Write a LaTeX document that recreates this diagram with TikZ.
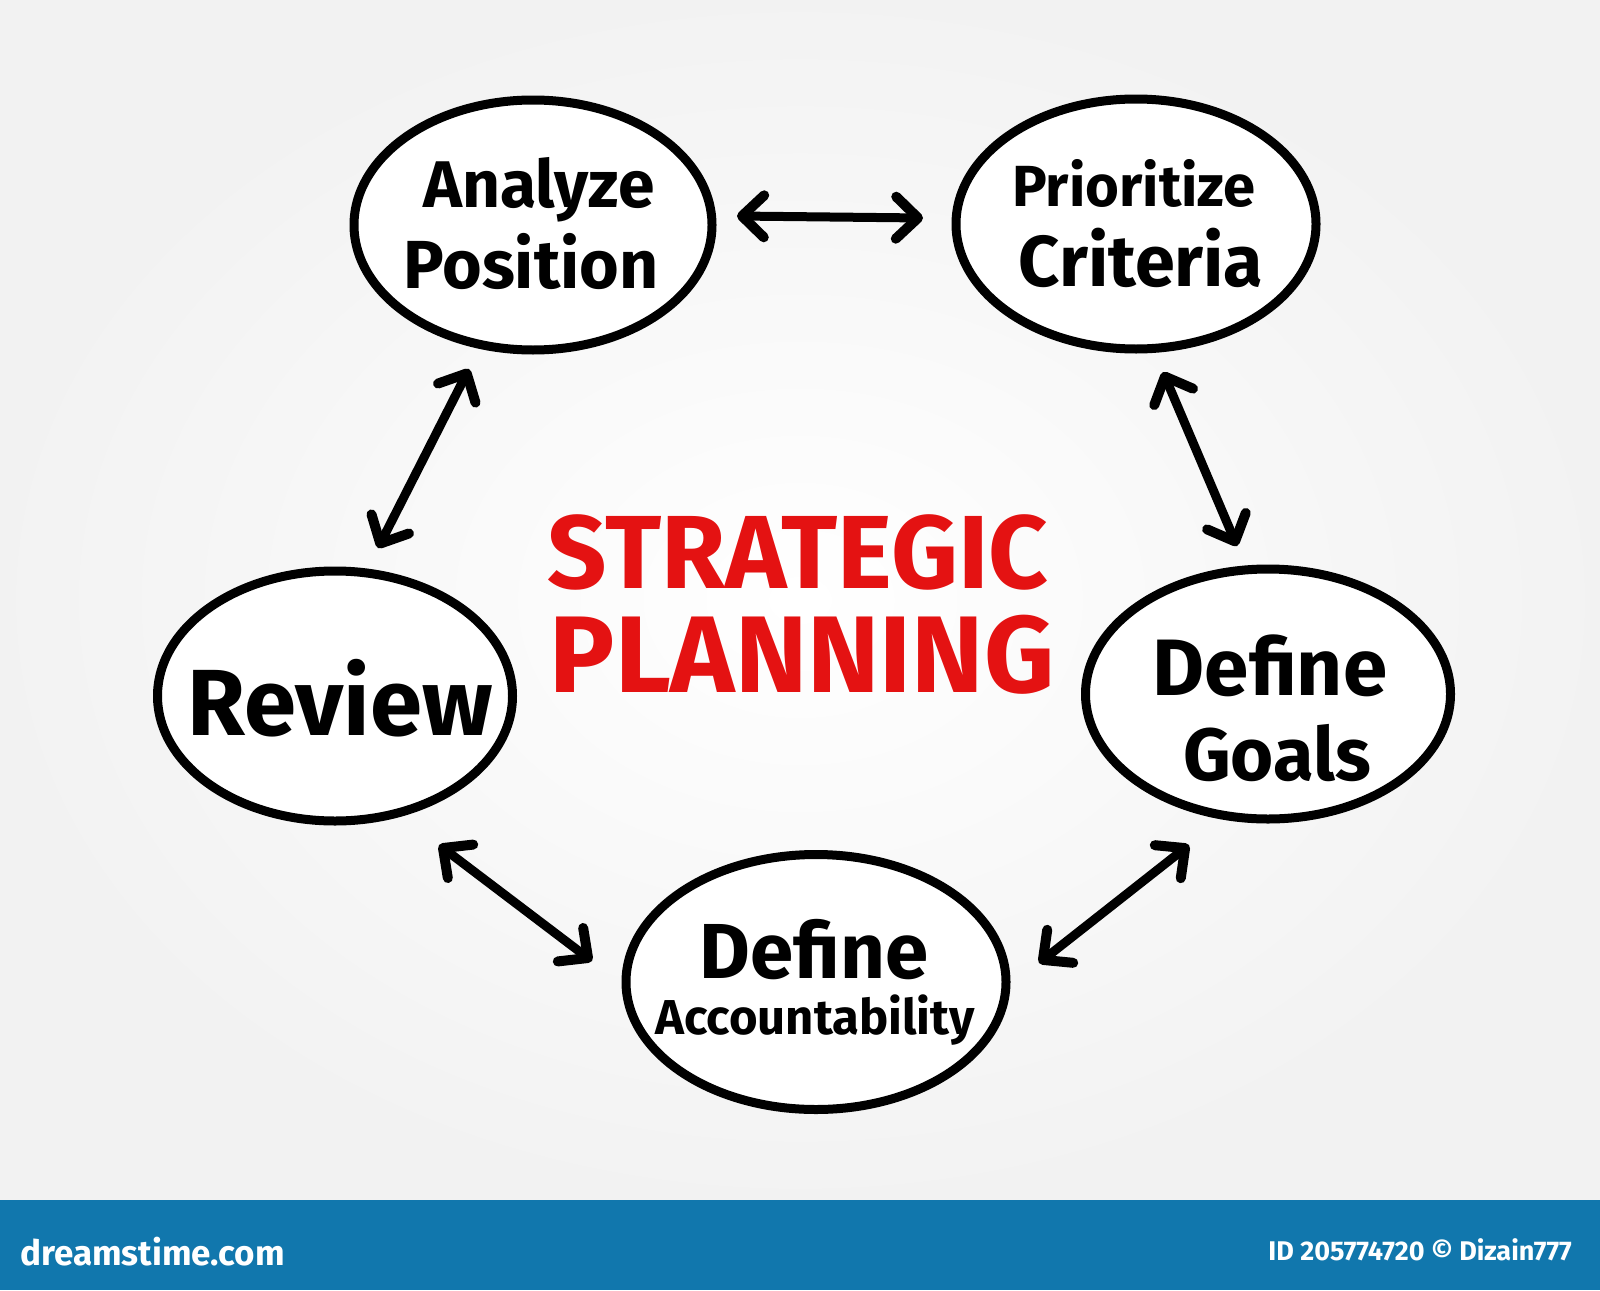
\documentclass[tikz,border=0pt]{standalone}
\usepackage{fontspec}
\setmainfont{Fira Sans}
\usetikzlibrary{shapes.geometric,arrows.meta}
\definecolor{redtxt}{RGB}{228,18,18}
\definecolor{barblue}{RGB}{17,119,173}
\newcommand{\fsz}[1]{\fontsize{#1}{#1}\selectfont\bfseries}
\tikzset{
  bubble/.style={ellipse, draw=black, line width=9pt, fill=white, inner sep=0pt,
    minimum width=360pt, minimum height=250pt},
  lbl/.style={text=black, inner sep=0pt, anchor=base},
  barbtip/.tip={Straight Barb[length=22pt,width=42pt,line width=10pt,round]},
  link/.style={draw=black, line width=9pt, line cap=round, barbtip-barbtip},
  title/.style={text=redtxt, inner sep=0pt, anchor=base},
  bartext/.style={text=white, inner sep=0pt}
}
\begin{document}
\begin{tikzpicture}[x=1pt,y=-1pt]
\useasboundingbox (0,0) rectangle (1600,1290);
\shade[inner color=white, outer color=black!5] (0,0) rectangle (1600,1200);
\fill[barblue] (0,1200) rectangle (1600,1290);
\node[bartext, anchor=west, font=\fsz{35}] (brand) at (20,1252) {dreamstime.com};
\node[bartext, anchor=east, font=\fontsize{27}{27}\selectfont\bfseries] (idtext) at (1572,1250) {ID 205774720 © Dizain777};

\node[bubble, minimum width=358pt] (A) at (533,225) {};
\node[bubble] (P) at (1136,224) {};
\node[bubble, minimum width=355pt] (R) at (335,696) {};
\node[bubble, minimum width=365pt] (G) at (1268,694) {};
\node[bubble, minimum width=380pt, minimum height=255pt] (D) at (816,982) {};

\node[lbl, font=\fsz{66}] (A1) at (539,207) {Analyze};
\node[lbl, font=\fsz{68}] (A2) at (531,288) {Position};
\node[lbl, font=\fsz{58}] (P1) at (1134,206) {Prioritize};
\node[lbl, font=\fsz{72}] (P2) at (1141,286) {Criteria};
\node[lbl, font=\fsz{94}] (R1) at (340,735) {Review};
\node[lbl, font=\fsz{80}] (G1) at (1270,695) {Define};
\node[lbl, font=\fsz{74}] (G2) at (1277,780) {Goals};
\node[lbl, font=\fsz{78}] (D1) at (814,978) {Define};
\node[lbl, font=\fsz{49}] (D2) at (815,1034) {Accountability};

\node[title, font=\fsz{104}] (T1) at (798,588) {STRATEGIC};
\node[title, font=\fsz{109}] (T2) at (802,692) {PLANNING};

\coordinate (a1) at (737,216); \coordinate (p1) at (923,218);
\coordinate (a2) at (469,369); \coordinate (r2) at (378,548);
\coordinate (p3) at (1163,372); \coordinate (g3) at (1237,546);
\coordinate (r4) at (439,845); \coordinate (d4) at (592,961);
\coordinate (g5) at (1189,845); \coordinate (d5) at (1039,963);
\draw[link] (a1) -- (p1);
\draw[link] (a2) -- (r2);
\draw[link] (p3) -- (g3);
\draw[link] (r4) -- (d4);
\draw[link] (g5) -- (d5);
\end{tikzpicture}
\end{document}
